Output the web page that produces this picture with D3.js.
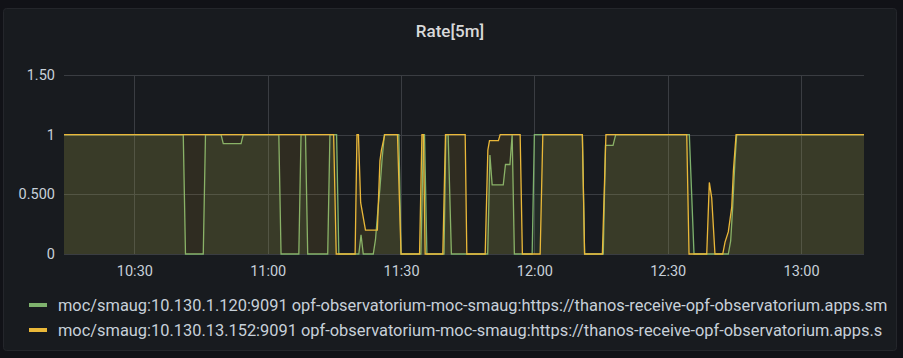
<!DOCTYPE html>
<html>
<head>
<meta charset="utf-8">
<script src="https://cdn.jsdelivr.net/npm/d3@7"></script>
<style>
  body { margin: 0; background: #111217; }
  svg { display: block; }
</style>
</head>
<body>
<script>
// series values: [time, rate]
var greenSeries = [
  ["10:14:10",1],
  ["10:41:00",1],["10:41:30",0],
  ["10:45:30",0],["10:46:00",1],
  ["10:49:30",1],["10:50:00",0.925],["10:54:00",0.925],["10:54:30",1],
  ["11:02:30",1],["11:03:00",0],
  ["11:07:00",0],["11:07:30",1],
  ["11:08:30",1],["11:09:00",0],
  ["11:13:30",0],["11:14:00",1],
  ["11:15:30",1],["11:16:00",0],
  ["11:20:30",0],["11:21:00",0.16],["11:21:30",0],
  ["11:23:45",0],["11:24:15",0.12],["11:24:45",0.35],["11:25:15",0.55],["11:25:45",0.8],["11:26:15",1],
  ["11:29:30",1],["11:30:00",0],
  ["11:34:28",0],["11:35:03",1],["11:35:17",1],["11:35:49",0],
  ["11:39:40",0],["11:40:05",1],["11:40:36",1],["11:41:20",0],
  ["11:49:30",0],["11:50:00",0.83],["11:50:30",0.58],["11:53:00",0.58],["11:53:30",0.75],["11:54:30",0.75],["11:55:00",1],["11:55:30",0],
  ["11:59:30",0],["12:00:00",1],
  ["12:10:48",1],["12:11:18",0],
  ["12:15:30",0],["12:16:00",0.91],["12:17:42",0.91],["12:18:18",1],
  ["12:34:52",1],["12:35:55",0],
  ["12:43:38",0],["12:44:10",0.11],["12:44:37",0.39],["12:45:08",0.78],["12:45:31",1],
  ["13:14:10",1]
];

var yellowSeries = [
  ["10:14:10",1],
  ["11:14:50",1],["11:15:25",0],
  ["11:19:40",0],["11:20:05",1],["11:20:25",1],["11:20:55",0.43],["11:22:00",0.2],["11:24:40",0.2],["11:25:15",0.78],["11:25:35",0.87],["11:26:20",1],
  ["11:29:12",1],["11:30:00",0],
  ["11:34:10",0],["11:34:42",1],["11:35:02",1],["11:35:26",0],
  ["11:39:24",0],["11:40:00",1],
  ["11:44:26",1],["11:44:48",0],
  ["11:48:56",0],["11:49:32",0.87],["11:49:54",0.95],["11:51:55",0.95],["11:52:18",1],
  ["11:56:48",1],["11:57:18",0],
  ["12:01:18",0],["12:01:54",1],
  ["12:10:48",1],["12:11:18",0],
  ["12:15:18",0],["12:16:06",1],
  ["12:34:17",1],["12:34:48",0],
  ["12:38:47",0],["12:39:22",0.6],["12:39:54",0.47],["12:40:38",0],
  ["12:42:23",0],["12:42:54",0.1],["12:43:38",0.185],["12:44:24",0.39],["12:44:47",0.7],["12:45:23",1],
  ["13:14:10",1]
];

// legend names as far as they are visible in the panel
var seriesNames = [
  "moc/smaug:10.130.1.120:9091 opf-observatorium-moc-smaug:https://thanos-receive-opf-observatorium.apps.sm",
  "moc/smaug:10.130.13.152:9091 opf-observatorium-moc-smaug:https://thanos-receive-opf-observatorium.apps.s"
];
var seriesColors = ["#7eb26d", "#eab839"];

var timeRange = ["10:14:10", "13:14:10"];
var xTickTimes = ["10:30", "11:00", "11:30", "12:00", "12:30", "13:00"];
var yTickValues = [0, 0.5, 1, 1.5];
var yTickLabels = ["0", "0.500", "1", "1.50"];

var parseTime = d3.timeParse("%Y-%m-%d %H:%M:%S");
function toDate(s) {
  if (s.length == 5) s = s + ":00";
  return parseTime("2021-06-01 " + s);
}

var W = 903, H = 358;
var margin = {top: 75, right: 39, bottom: 104, left: 64};
var width = W - margin.left - margin.right,
    height = H - margin.top - margin.bottom;

var svg = d3.select("body").append("svg")
  .attr("width", W)
  .attr("height", H);

// panel
svg.append("rect")
  .attr("x", 3.5).attr("y", 8.5)
  .attr("width", 893).attr("height", 342)
  .attr("rx", 3)
  .attr("fill", "#181b1f")
  .attr("stroke", "#24262b");

svg.append("text")
  .attr("x", 450).attr("y", 37)
  .attr("text-anchor", "middle")
  .attr("font-family", "Roboto, sans-serif")
  .attr("font-size", 17)
  .attr("font-weight", 500)
  .attr("fill", "#d8d9da")
  .text("Rate[5m]");

var x = d3.scaleTime()
  .domain(timeRange.map(toDate))
  .range([0, width]);

var y = d3.scaleLinear()
  .domain([0, 1.5])
  .range([height, 0]);

var g = svg.append("g")
  .attr("transform", "translate(" + margin.left + "," + margin.top + ")");

// grid
g.append("g")
  .selectAll("line").data(yTickValues).enter().append("line")
  .attr("x1", 0).attr("x2", width)
  .attr("y1", function(d){ return Math.round(y(d)) + 0.5; })
  .attr("y2", function(d){ return Math.round(y(d)) + 0.5; })
  .attr("stroke", "#3a3d42");

g.append("g")
  .selectAll("line").data(xTickTimes).enter().append("line")
  .attr("y1", 0).attr("y2", height)
  .attr("x1", function(d){ return Math.round(x(toDate(d))) + 0.5; })
  .attr("x2", function(d){ return Math.round(x(toDate(d))) + 0.5; })
  .attr("stroke", "#3a3d42");

// axes labels
var xAxis = g.append("g")
  .attr("transform", "translate(0," + height + ")")
  .call(d3.axisBottom(x)
    .tickValues(xTickTimes.map(toDate))
    .tickSize(0)
    .tickPadding(12)
    .tickFormat(d3.timeFormat("%H:%M")));
var yAxis = g.append("g")
  .call(d3.axisLeft(y)
    .tickValues(yTickValues)
    .tickSize(0)
    .tickPadding(9)
    .tickFormat(function(d, i){ return yTickLabels[i]; }));
[xAxis, yAxis].forEach(function(a) {
  a.select(".domain").remove();
  a.selectAll("text")
    .attr("fill", "#c7d0d9")
    .attr("font-family", "Roboto, sans-serif")
    .attr("font-size", 14.5);
});

svg.append("clipPath").attr("id", "plotclip")
  .append("rect").attr("x", 0).attr("y", -2).attr("width", width).attr("height", height + 4);

var plot = g.append("g").attr("clip-path", "url(#plotclip)");

var area = d3.area()
  .x(function(d){ return x(toDate(d[0])); })
  .y0(y(0))
  .y1(function(d){ return y(d[1]); });
var line = d3.line()
  .x(function(d){ return x(toDate(d[0])); })
  .y(function(d){ return y(d[1]); });

[greenSeries, yellowSeries].forEach(function(s, i) {
  plot.append("path")
    .datum(s)
    .attr("d", area)
    .attr("fill", seriesColors[i])
    .attr("fill-opacity", 0.11);
  plot.append("path")
    .datum(s)
    .attr("d", line)
    .attr("fill", "none")
    .attr("stroke", seriesColors[i])
    .attr("stroke-width", 1.3);
});

// legend
var legend = svg.append("g")
  .selectAll("g").data(seriesNames).enter().append("g")
  .attr("transform", function(d, i){ return "translate(29," + (305 + i * 25) + ")"; });
legend.append("rect")
  .attr("x", 0).attr("y", -2)
  .attr("width", 18).attr("height", 4)
  .attr("fill", function(d, i){ return seriesColors[i]; });
legend.append("text")
  .attr("x", 29).attr("y", 5.5)
  .attr("font-family", "Roboto, sans-serif")
  .attr("font-size", 16.4)
  .attr("fill", "#c7d0d9")
  .text(function(d){ return d; });
</script>
</body>
</html>
